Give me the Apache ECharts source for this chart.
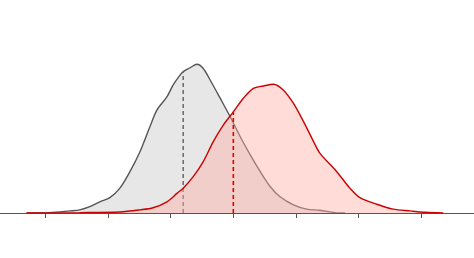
<!DOCTYPE html>
<html><head><meta charset="utf-8">
<script src="https://cdn.jsdelivr.net/npm/echarts@6/dist/echarts.min.js"></script>
<style>html,body{margin:0;padding:0;background:#fff}#c{width:474px;height:258px}</style>
</head><body><div id="c"></div>
<script>
// Gray density (x, density)
const grayX = [-3.30,-2.93,-2.61,-2.45,-2.29,-2.13,-1.97,-1.81,-1.65,-1.49,-1.33,-1.22,-1.06,-0.96,-0.86,-0.80,-0.69,-0.58,-0.48,-0.37,-0.21,-0.05,0.11,0.27,0.43,0.59,0.74,0.96,1.17,1.38,1.62,1.78];
const grayY = [0,0.001,0.006,0.009,0.018,0.032,0.044,0.071,0.118,0.175,0.247,0.294,0.332,0.366,0.392,0.404,0.415,0.425,0.413,0.380,0.328,0.275,0.218,0.166,0.118,0.075,0.047,0.023,0.011,0.008,0.001,0];
// Red density (x, density)
const redX = [-3.30,-2.45,-1.81,-1.49,-1.28,-1.06,-0.90,-0.80,-0.64,-0.48,-0.32,-0.16,0,0.16,0.32,0.48,0.64,0.80,0.96,1.12,1.28,1.38,1.65,1.86,2.02,2.29,2.55,2.82,3.06,3.35];
const redY = [0,0.001,0.003,0.009,0.015,0.032,0.056,0.071,0.104,0.147,0.204,0.251,0.289,0.328,0.356,0.363,0.368,0.351,0.313,0.261,0.204,0.171,0.118,0.071,0.044,0.025,0.011,0.006,0.002,0];
const grayMean = -0.80;
const redMean = 0;
const tickValues = [-3,-2,-1,0,1,2,3];

function interp(xs, ys, x){
  for(let i=0;i<xs.length-1;i++){
    if(x>=xs[i]&&x<=xs[i+1]){const t=(x-xs[i])/(xs[i+1]-xs[i]);return ys[i]+t*(ys[i+1]-ys[i]);}
  }
  return 0;
}
const zip=(a,b)=>a.map((v,i)=>[v,b[i]]);
function meanSeries(xs, ys, m, color, z){
  return {type:'line',data:[[m,0],[m,interp(xs,ys,m)]],symbol:'none',silent:true,
    lineStyle:{color:color,type:[4,3],width:1.6},itemStyle:{color:color},z:z};
}

const chart = echarts.init(document.getElementById('c'));
chart.setOption({
  animation:false,
  grid:{left:0,right:0,top:0,bottom:45},
  xAxis:{type:'value',min:-3.723,max:3.84,
    axisLine:{show:true,lineStyle:{color:'#555',width:1}},
    axisTick:{show:true,customValues:tickValues,length:5,lineStyle:{color:'#555'}},
    axisLabel:{show:false},splitLine:{show:false}},
  yAxis:{type:'value',min:0,max:0.6086,show:false,splitLine:{show:false}},
  series:[
    {type:'line',data:zip(grayX,grayY),smooth:0.3,symbol:'none',
     itemStyle:{color:'#555'},
     lineStyle:{color:'#555',width:1.4},
     areaStyle:{color:'#e7e7e7',opacity:1},
     z:2},
    meanSeries(grayX,grayY,grayMean,'#707070',2),
    {type:'line',data:zip(redX,redY),smooth:0.3,symbol:'none',
     itemStyle:{color:'#cc0000'},
     lineStyle:{color:'#cc0000',width:1.4},
     areaStyle:{color:'rgba(255,175,165,0.44)',opacity:1},
     z:3},
    meanSeries(redX,redY,redMean,'#e00000',4)
  ]
});
</script></body></html>
